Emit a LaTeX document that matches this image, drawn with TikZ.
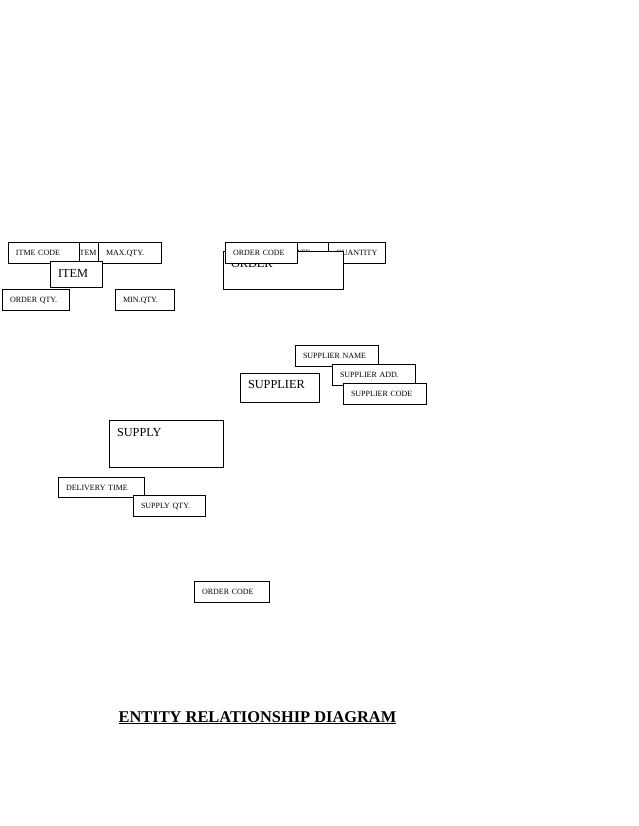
\documentclass[tikz,border=0pt]{standalone}
\usepackage{fontspec}
\setmainfont{Liberation Serif}
\begin{document}
\begin{tikzpicture}[x=1pt, y=-1pt,
    attr/.style={draw, fill=white, line width=0.8pt, anchor=north west,
        inner xsep=8pt, inner ysep=0pt, outer sep=0pt, text height=13pt, text depth=8pt,
        align=left, font=\fontsize{8}{9}\selectfont, text width=#1},
    entity/.style={draw, fill=white, line width=0.8pt, anchor=north west,
        inner xsep=8pt, inner ysep=0pt, outer sep=0pt, align=left,
        font=\fontsize{12.3}{14}\selectfont, text width=#1}]
    \useasboundingbox (0,0) rectangle (638,826);

    % ITEM and its attributes
    \node[attr=44pt] (itemhid) at (69,242) {ITEM};
    \node[attr=55pt] (itmecode) at (8,242) {ITME CODE};
    \node[attr=47pt] (maxqty) at (98,242) {MAX.QTY.};
    \node[entity=36pt, text height=16pt, text depth=10pt] (item) at (50,261) {ITEM};
    \node[attr=51pt] (orderqty) at (2,289) {ORDER QTY.};
    \node[attr=43pt] (minqty) at (115,289) {MIN.QTY.};

    % ORDER and its attributes
    \node[attr=60pt] (orderdate) at (252,242) {ORDER DATE};
    \node[attr=41pt] (quantity) at (328,242) {QUANTITY};
    \node[entity=104pt, text height=16pt, text depth=22pt] (order) at (223,251) {ORDER};
    \node[attr=56pt] (ordercode) at (225,242) {ORDER CODE};

    % SUPPLIER and its attributes
    \node[attr=67pt] (suppname) at (295,345) {SUPPLIER NAME};
    \node[attr=67pt] (suppadd) at (332,364) {SUPPLIER ADD.};
    \node[attr=67pt] (suppcode) at (343,383) {SUPPLIER CODE};
    \node[entity=63pt, text height=15pt, text depth=14pt] (supplier) at (240,373) {SUPPLIER};

    % SUPPLY and its attributes
    \node[entity=98pt, text height=16pt, text depth=31pt] (supply) at (109,420) {SUPPLY};
    \node[attr=70pt, text depth=7pt] (delivery) at (58,477) {DELIVERY TIME};
    \node[attr=56pt] (supplyqty) at (133,495) {SUPPLY QTY.};
    \node[attr=59pt] (ordercodeb) at (194,581) {ORDER CODE};

    % title
    \node[anchor=base, inner sep=0pt, font=\fontsize{16.4}{19}\selectfont\bfseries] (title) at (257.5,722)
        {\underline{ENTITY RELATIONSHIP DIAGRAM}};
\end{tikzpicture}
\end{document}
